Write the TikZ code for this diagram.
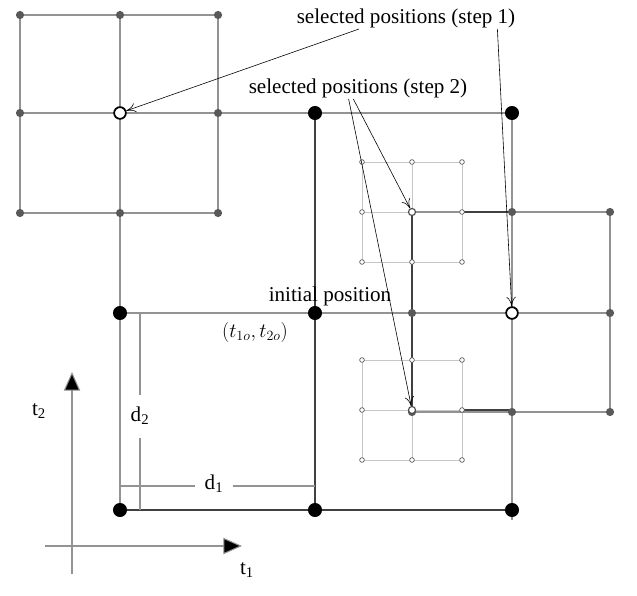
\documentclass[tikz,border=0pt]{standalone}
\usepackage{fontspec}
\setmainfont{Liberation Serif}
\usetikzlibrary{arrows.meta}
\begin{document}
\begin{tikzpicture}[x=0.03cm,y=-0.03cm,
  gl/.style={draw=gray!85,line width=0.9pt},
  dl/.style={draw=black!75,line width=0.9pt},
  ll/.style={draw=gray!45,line width=0.8pt},
  big/.style={circle,fill=black,inner sep=0,minimum size=12pt},
  med/.style={circle,fill=gray!70!black,inner sep=0,minimum size=7pt},
  sml/.style={circle,draw=gray!70!black,fill=white,inner sep=0,minimum size=4pt,line width=0.6pt},
  sel/.style={circle,draw=black,fill=white,inner sep=0,minimum size=10pt,line width=1.5pt},
  sel2/.style={circle,draw=gray!60!black,fill=white,inner sep=0,minimum size=6pt,line width=1pt},
  ptr/.style={-{To[length=8pt,width=8pt]},line width=0.5pt},
  lab/.style={font=\fontsize{18}{21}\selectfont,inner sep=1pt}]
\useasboundingbox (0,0) rectangle (637,596);
% step 2 grids (light)
\foreach \cy in {212,410}{
  \foreach \d in {-50,0,50}{
    \draw[ll] (362,\cy+\d) -- (462,\cy+\d);
    \draw[ll] (412+\d,\cy-50) -- (412+\d,\cy+50);
  }}
% top-left grid
\foreach \d in {15,113,213}{\draw[gl] (20,\d) -- (218,\d); }
\foreach \d in {20,120,218}{\draw[gl] (\d,15) -- (\d,213); }
% right grid
\foreach \d in {212,313,412}{\draw[gl] (412,\d) -- (610,\d); }
\foreach \d in {412,512,610}{\draw[gl] (\d,212) -- (\d,412); }
% big grid
\draw[gl] (218,113) -- (512,113);
\draw[gl] (120,313) -- (412,313);
\draw[dl] (120,510) -- (512,510);
\draw[dl] (315,113) -- (315,510);
\draw[gl] (120,213) -- (120,510);
\draw[gl] (512,113) -- (512,520);
\draw[dl] (412,212) -- (412,412);
\draw[dl] (462,212) -- (512,212);
\draw[dl] (462,410) -- (512,410);
% d1 d2
\draw[gl] (140,313) -- (140,395);
\draw[gl] (140,438) -- (140,510);
\draw[gl] (120,486) -- (195,486);
\draw[gl] (233,486) -- (315,486);
\node[lab] (d1) at (214,484) {d\textsubscript{1}};
\node[lab] (d2) at (140,416) {d\textsubscript{2}};
% axes
\draw[gl,-{Triangle[length=16pt,width=14pt,fill=black]}] (45,546) -- (242,546);
\draw[gl,-{Triangle[length=16pt,width=14pt,fill=black]}] (72,574) -- (72,372);
\node[lab] (t1) at (247,570) {t\textsubscript{1}};
\node[lab] (t2) at (39,411) {t\textsubscript{2}};
% dots
\foreach \p in {(20,15),(120,15),(218,15),(20,113),(218,113),(20,213),(120,213),(218,213),
  (412,313),(412,412),(512,212),(610,212),(610,313),(512,412),(610,412)}{\node[med] at \p {};}
\foreach \cy in {212,410}{\foreach \dx in {-50,0,50}{\foreach \dy in {-50,0,50}{
  \node[sml] at (412+\dx,\cy+\dy) {};}}}
\foreach \p in {(120,313),(315,313),(120,510),(315,510),(315,113),(512,113),(512,510)}{\node[big] at \p {};}
\node[sel] (s1a) at (120,113) {};
\node[sel] (s1b) at (512,313) {};
\node[sel2] (s2a) at (412,212) {};
\node[sel2] (s2b) at (412,410) {};
% labels
\node[lab] (L1) at (406,18) {selected positions (step 1)};
\node[lab] (L2) at (358,88) {selected positions (step 2)};
\node[lab] (ini) at (330,296) {initial position};
\node[lab] (pos) at (255,332) {$(t_{1o},t_{2o})$};
\draw[ptr] ([xshift=-40pt]L1.south) -- (s1a);
\draw[ptr] ([xshift=78pt]L1.south) -- (s1b);
\draw[ptr] ([xshift=-4pt]L2.south) -- (s2a);
\draw[ptr] ([xshift=-8pt]L2.south) -- (s2b);
\end{tikzpicture}
\end{document}
